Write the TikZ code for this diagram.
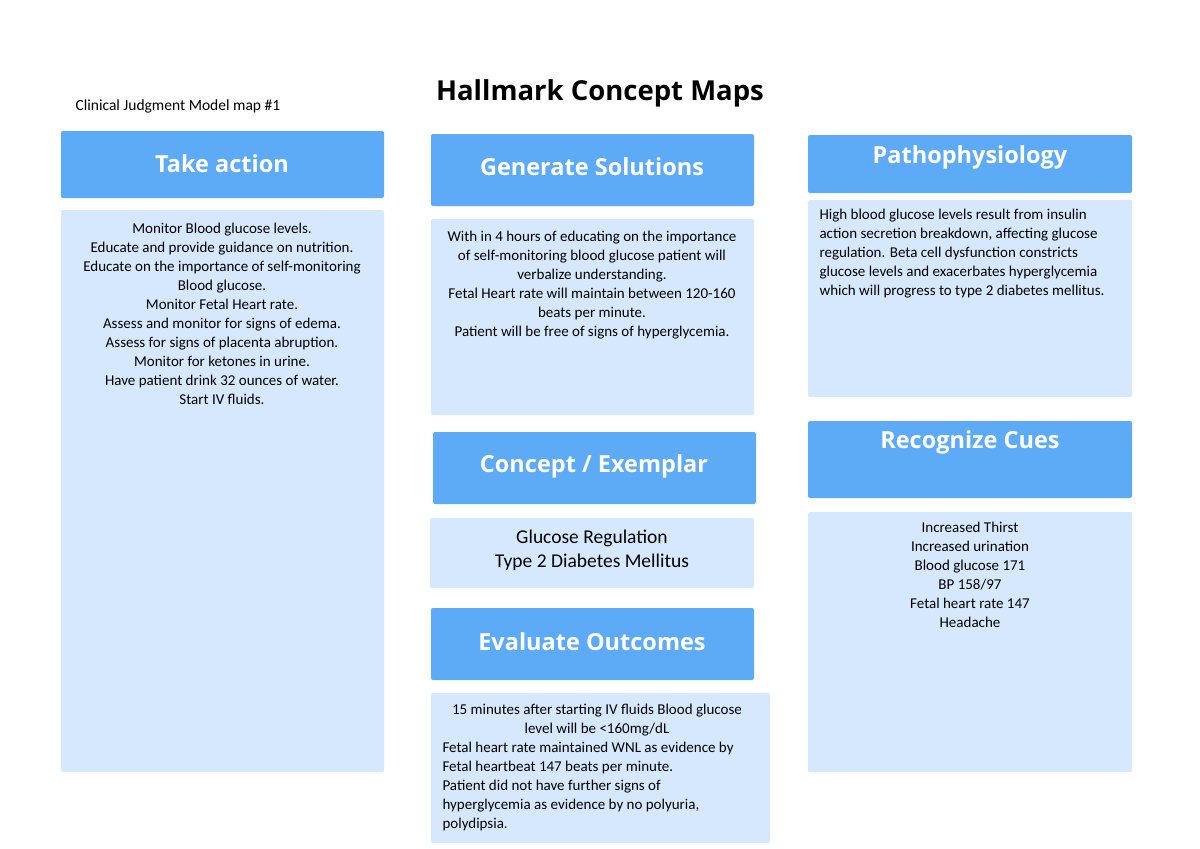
\documentclass[tikz,border=0pt]{standalone}
\usepackage{fontspec}
\setmainfont{Carlito}
\newfontfamily\headfont{Open Sans}
\definecolor{hdr}{HTML}{5DAAF6}
\definecolor{bdy}{HTML}{D5E8FD}
\begin{document}
\begin{tikzpicture}[x=1pt,y=-1pt]
\tikzset{
 hbox/.style={fill=hdr,draw=none,rounded corners=2pt},
 bbox/.style={fill=bdy,draw=none,rounded corners=2pt},
 htext/.style={text=white,font=\headfont\bfseries\fontsize{23.5}{27}\selectfont},
 btext/.style={font=\fontsize{15}{19}\selectfont,align=center,anchor=north},
 ltext/.style={font=\fontsize{15}{19}\selectfont,align=left,anchor=north west},
}
\useasboundingbox (0,0) rectangle (1200,849);
\fill[white] (0,0) rectangle (1200,849);
\node[font=\headfont\bfseries\fontsize{27.5}{31}\selectfont] (title) at (600,93) {Hallmark Concept Maps};
\node[anchor=west,font=\fontsize{15.5}{17}\selectfont] (sub) at (72,106) {Clinical Judgment Model map \#1};
% column 1
\fill[hbox] (61,131) rectangle (384,198);
\node[htext] (ta) at (222,164) {Take action};
\fill[bbox] (61,210) rectangle (384,772);
\node[btext] (tab) at (222,220) {Monitor Blood glucose levels.\\Educate and provide guidance on nutrition.\\Educate on the importance of self-monitoring\\Blood glucose.\\Monitor Fetal Heart rate.\\Assess and monitor for signs of edema.\\Assess for signs of placenta abruption.\\Monitor for ketones in urine.\\Have patient drink 32 ounces of water.\\Start IV fluids.};
% column 2
\fill[hbox] (431,134) rectangle (754,206);
\node[htext] (gs) at (592,167) {Generate Solutions};
\fill[bbox] (431,219) rectangle (754,415);
\node[btext] (gsb) at (592,228) {With in 4 hours of educating on the importance\\of self-monitoring blood glucose patient will\\verbalize understanding.\\Fetal Heart rate will maintain between 120-160\\beats per minute.\\Patient will be free of signs of hyperglycemia.};
\fill[hbox] (433,432) rectangle (756,504);
\node[htext] (ce) at (594,466) {Concept / Exemplar};
\fill[bbox] (430,518) rectangle (754,588);
\node[btext,font=\fontsize{19.5}{24}\selectfont] (ceb) at (592,526) {Glucose Regulation\\Type 2 Diabetes Mellitus};
\fill[hbox] (431,608) rectangle (754,680);
\node[htext] (eo) at (592,642) {Evaluate Outcomes};
\fill[bbox] (431,693) rectangle (770,843);
\node[btext] (eob) at (597,701) {15 minutes after starting IV fluids Blood glucose\\level will be <160mg/dL};
\node[ltext] (eob2) at (439,739) {Fetal heart rate maintained WNL as evidence by\\Fetal heartbeat 147 beats per minute.\\Patient did not have further signs of\\hyperglycemia as evidence by no polyuria,\\polydipsia.};
% column 3
\fill[hbox] (808,135) rectangle (1132,193);
\node[htext] (pp) at (970,157) {Pathophysiology};
\fill[bbox] (808,200) rectangle (1132,397);
\node[ltext] (ppb) at (816,206) {High blood glucose levels result from insulin\\action secretion breakdown, affecting glucose\\regulation. Beta cell dysfunction constricts\\glucose levels and exacerbates hyperglycemia\\which will progress to type 2 diabetes mellitus.};
\fill[hbox] (808,421) rectangle (1132,498);
\node[htext] (rc) at (970,442) {Recognize Cues};
\fill[bbox] (808,512) rectangle (1132,772);
\node[btext] (rcb) at (970,519) {Increased Thirst\\Increased urination\\Blood glucose 171\\BP 158/97\\Fetal heart rate 147\\Headache};
\end{tikzpicture}
\end{document}
